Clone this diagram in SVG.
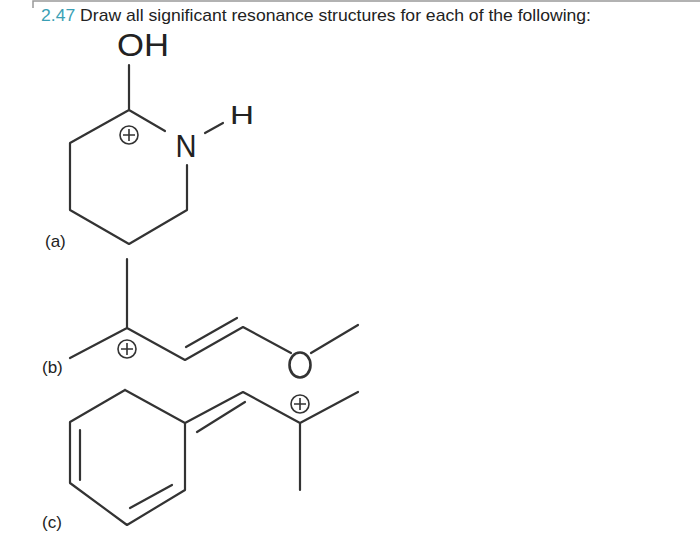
<svg xmlns="http://www.w3.org/2000/svg" width="700" height="553" viewBox="0 0 700 553">
<style>
.b{stroke:#333;stroke-width:2.2;fill:none;stroke-linecap:round;stroke-linejoin:round}
.t{font-family:"Liberation Sans Narrow","Liberation Sans",Arial,sans-serif;fill:#222}
.c{stroke:#333;stroke-width:1.6;fill:none}
</style>
<rect width="700" height="553" fill="#fff"/>
<path d="M33 8V1H700" stroke="#999" stroke-width="1.5" fill="none"/>
<g id="title"><text class="t" x="41" y="21" font-size="17" textLength="550" lengthAdjust="spacingAndGlyphs"><tspan fill="#3a9fb5">2.47</tspan> Draw all significant resonance structures for each of the following:</text></g>
<g id="a">
<text class="t" x="143" y="56" font-size="32" text-anchor="middle" textLength="52" lengthAdjust="spacingAndGlyphs">OH</text>
<text class="t" x="186" y="157" font-size="32" text-anchor="middle" textLength="21" lengthAdjust="spacingAndGlyphs">N</text>
<text class="t" x="242" y="124" font-size="26" text-anchor="middle" textLength="24" lengthAdjust="spacingAndGlyphs">H</text>
<path class="b" d="M129 65V110L70 143V210L129 244L187 210V165M129 110L165 131M205 133L223 123"/>
<circle class="c" cx="129" cy="135" r="9"/><path class="c" d="M123 135H135M129 129V141"/>
<text class="t" x="45" y="247" font-size="17">(a)</text>
</g>
<g id="b">
<path class="b" d="M127 259V328L70 358M127 328L185 360L243 327L291 353M186 347L237 318M311 353L358 325"/>
<ellipse cx="300" cy="365" rx="10.5" ry="12.5" fill="none" stroke="#333" stroke-width="2.6"/>
<circle class="c" cx="127" cy="349" r="9"/><path class="c" d="M121 349H133M127 343V355"/>
<text class="t" x="42" y="373" font-size="17">(b)</text>
</g>
<g id="c">
<path class="b" d="M125 390L70 422V483L127 525L185 490V423L125 390M80 430V480M130 508L172 485M185 423L243 392L300 423L358 392M300 423V490M197 432L245 402"/>
<circle class="c" cx="300" cy="404" r="9"/><path class="c" d="M294 404H306M300 398V410"/>
<text class="t" x="42" y="528" font-size="17">(c)</text>
</g>
</svg>
